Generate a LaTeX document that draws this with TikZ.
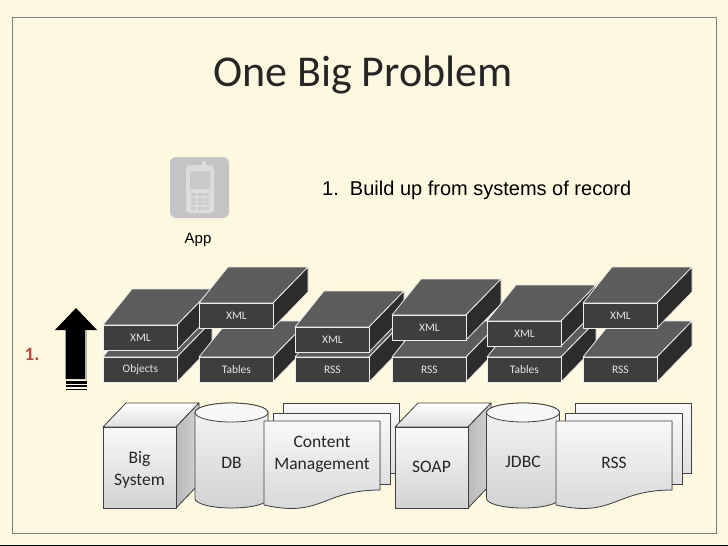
\documentclass[tikz,border=0pt]{standalone}
\usepackage{fontspec}
\setmainfont{Carlito}
\newfontfamily\arialf{Liberation Sans}
\usetikzlibrary{calc}
\definecolor{bg}{RGB}{253,248,224}
\definecolor{framec}{RGB}{128,128,128}
\definecolor{slabF}{RGB}{62,62,62}
\definecolor{slabT}{RGB}{92,92,92}
\definecolor{slabS}{RGB}{44,44,44}
\definecolor{slabE}{RGB}{236,236,236}
\definecolor{slabtxt}{RGB}{230,230,230}
\definecolor{outl}{RGB}{64,64,64}
\definecolor{redlbl}{RGB}{185,70,65}
\definecolor{icon}{RGB}{196,196,196}
\definecolor{phone}{RGB}{220,220,220}
\tikzset{
  slabtopface/.style={fill=slabT, draw=slabE, line width=0.8pt, line join=round},
  slabsideface/.style={fill=slabS, draw=slabE, line width=0.8pt, line join=round},
  slabfront/.style={draw=slabE, line width=0.8pt, fill=slabF, minimum width=74pt, minimum height=25pt,
    inner sep=0pt, anchor=north west, text=slabtxt, font=\fontsize{11.5}{12}\selectfont},
  cubetop/.style={top color=white, bottom color=gray!25, draw=outl, line width=0.8pt, line join=round},
  cubeside/.style={left color=gray!55, right color=gray!35, draw=outl, line width=0.8pt, line join=round},
  cubefront/.style={top color=gray!5, bottom color=gray!35, draw=outl, line width=0.8pt,
    minimum width=73pt, minimum height=81pt, inner sep=0pt, anchor=north west, align=center,
    text=black!85, font=\fontsize{17.5}{23}\selectfont},
  cylbody/.style={top color=gray!8, bottom color=gray!35, draw=outl, line width=0.8pt},
  cyltop/.style={fill=gray!6, draw=outl, line width=0.8pt},
  docback/.style={top color=gray!5, bottom color=gray!25, draw=outl, line width=0.8pt},
  docfront/.style={top color=gray!5, bottom color=gray!33, draw=outl, line width=0.8pt, line join=round},
  lbl/.style={inner sep=0pt, align=center, text=black!85, font=\fontsize{17.5}{22.5}\selectfont},
}
\newcommand\slabbox[4]{%
  \filldraw[slabtopface] (#2,#3) -- ++(29pt,36pt) -- ++(80pt,0pt) -- ++(-35pt,-36pt) -- cycle;
  \filldraw[slabsideface] (#2+74,#3) -- ++(35pt,36pt) -- ++(0pt,-25pt) -- ++(-35pt,-36pt) -- cycle;
  \node[slabfront] (#1) at (#2,#3) {#4};}
\newcommand\cubebox[5]{%
  \filldraw[cubetop] (#2,#3) -- ++(23pt,24pt) -- ++(73pt,0pt) -- ++(-23pt,-24pt) -- cycle;
  \filldraw[cubeside] (#2+73,#3) -- ++(23pt,24pt) -- ++(0pt,-81pt) -- ++(-23pt,-24pt) -- cycle;
  \node[cubefront] (#1) at (#2,#3) {};
  \node[lbl] (#1-text) at (#2+36.5,#5) {#4};}
\newcommand\cylbox[4]{%
  \filldraw[cylbody] (#2-36.5,412.5) -- (#2-36.5,498.5)
    arc[start angle=180,end angle=360,x radius=36.5pt,y radius=9.5pt]
    -- (#2+36.5,412.5) arc[start angle=0,end angle=180,x radius=36.5pt,y radius=9.5pt] -- cycle;
  \filldraw[cyltop] (#2,412.5) ellipse[x radius=36.5pt,y radius=9.5pt];
  \node[lbl] (#1) at (#2,#4) {#3};}
\newcommand\docstack[4]{%
  \filldraw[docback] (#2+19,403) rectangle (#2+135,473);
  \filldraw[docback] (#2+9,413) rectangle (#2+126,484);
  \filldraw[docfront] (#2,421) -- (#2+116,421) -- (#2+116,490)
    .. controls (#2+58,490) and (#2+58,518) .. (#2,505) -- cycle;
  \node[lbl] (#1) at (#2+58,#4) {#3};}
\begin{document}
\begin{tikzpicture}[x=1pt,y=-1pt]
\useasboundingbox (0,0) rectangle (728,546);
\fill[bg] (0,0) rectangle (728,546);
\fill[black] (0,544.5) rectangle (728,546);
\draw[framec, line width=0.8pt] (12.5,17) rectangle (716,533);

% title and texts
\node[anchor=base, inner sep=0pt, text=black!85, font=\fontsize{44}{50}\selectfont] (title) at (363,86) {One Big Problem};
\node[anchor=base west, inner sep=0pt, font=\arialf\fontsize{20}{24}\selectfont] (step1) at (322,195) {1.\ \ Build up from systems of record};
\node[anchor=base, inner sep=0pt, font=\arialf\fontsize{15}{18}\selectfont] (app) at (198,243) {App};
\node[anchor=base, inner sep=0pt, text=redlbl, font=\bfseries\fontsize{19}{22}\selectfont] (one) at (32,360) {1.};

% app icon
\fill[icon, rounded corners=6pt] (170,157) rectangle (229,218);
\fill[phone, rounded corners=4pt] (186,165) rectangle (214,213);
\fill[phone] (202,160.5) rectangle (206,166);
\fill[icon!80!phone, rounded corners=1pt] (190,171) rectangle (210,189);
\foreach \r in {0,1,2,3}{\foreach \c in {0,1,2}{
  \fill[icon!70!phone] (191+\c*6.5,193+\r*4.5) rectangle ++(5pt,-3pt);}}

% up arrow
\fill[black] (76,308) -- (97,330) -- (86.5,330) -- (86.5,379) -- (65.5,379) -- (65.5,330) -- (55,330) -- cycle;
\fill[black] (65.5,381) rectangle (86.5,383.5);
\fill[black] (65.5,385) rectangle (86.5,387.3);
\fill[black] (65.5,388.5) rectangle (86.5,390);
\fill[gray!60] (84.5,330) rectangle (86.5,379);

% lower slabs
\slabbox{l1}{103}{357}{Objects}
\slabbox{l2}{199}{357}{Tables}
\slabbox{l3}{295}{357}{RSS}
\slabbox{l4}{392}{357}{RSS}
\slabbox{l5}{487}{357}{Tables}
\slabbox{l6}{583}{357}{RSS}
% upper slabs
\slabbox{u1}{103}{325}{XML}
\slabbox{u2}{199}{303}{XML}
\slabbox{u3}{295}{327}{XML}
\slabbox{u4}{392}{315}{XML}
\slabbox{u5}{487}{321}{XML}
\slabbox{u6}{583}{303}{XML}

% systems of record
\cubebox{big}{103}{427}{Big\\System}{470}
\cylbox{db}{231.5}{DB}{463}
\docstack{cm}{264}{Content\\Management}{454.5}
\cubebox{soap}{395}{427}{SOAP}{467}
\cylbox{jdbc}{523}{JDBC}{462}
\docstack{rss}{556}{RSS}{463}
\end{tikzpicture}
\end{document}
